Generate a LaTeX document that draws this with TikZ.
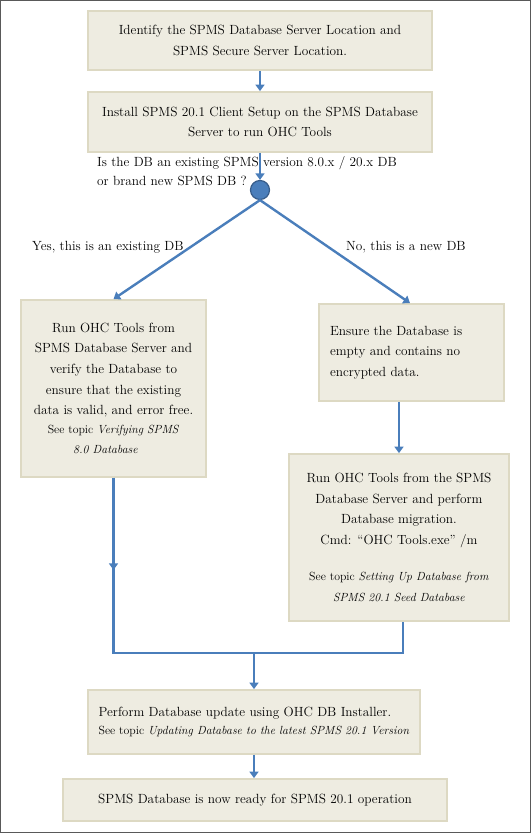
\documentclass[tikz,border=0pt]{standalone}
\usetikzlibrary{arrows.meta,shadows,calc}
\definecolor{boxfill}{HTML}{EEECE1}
\definecolor{boxline}{HTML}{DDD9C3}
\definecolor{arrblue}{HTML}{4A7EBB}
\definecolor{circline}{HTML}{385D8A}
\begin{document}
\begin{tikzpicture}[x=1pt,y=-1pt,
  box/.style={fill=boxfill,draw=boxline,line width=1.8pt,inner sep=0pt,
    drop shadow={opacity=0.25,shadow xshift=1.2pt,shadow yshift=-1.2pt},
    font=\fontsize{13.3}{20.6}\selectfont},
  conn/.style={draw=arrblue,line width=2.4pt},
  arr/.style={conn,-{Triangle[length=6.5pt,width=9pt]}},
  lbl/.style={inner sep=0pt,font=\fontsize{13.3}{19}\selectfont}]
\useasboundingbox (0,0) rectangle (531,833);
\draw[gray!70!black,line width=1pt] (0.5,0.5) rectangle (530.5,832.5);

\node[box,minimum width=344pt,minimum height=59pt,align=center] (b1) at (260,40.5)
 {Identify the SPMS Database Server Location and\\SPMS Secure Server Location.};
\node[box,minimum width=344pt,minimum height=60pt,align=center] (b2) at (260,122)
 {Install SPMS 20.1 Client Setup on the SPMS Database\\Server to run OHC Tools};

\node[circle,fill=arrblue,draw=circline,line width=1.2pt,minimum size=19pt,inner sep=0pt] (c) at (260,190) {};

\node[lbl,anchor=north west,align=left] (q) at (97,156)
 {Is the DB an existing SPMS\phantom{ }version 8.0.x / 20.x DB\\or brand new SPMS DB ?};

\node[box,minimum width=185pt,minimum height=177pt,align=center] (lb) at (113.5,388.5)
 {Run OHC Tools from\\SPMS Database Server and\\verify the Database to\\ensure that the existing\\data is valid, and error free.\\[-2pt]
  {\fontsize{11.8}{18.6}\selectfont See topic \textit{Verifying SPMS}}\\
  {\fontsize{11.8}{18.6}\selectfont\textit{8.0 Database}\hspace*{16pt}}};

\node[box,minimum width=185pt,minimum height=97pt,align=left,text width=163pt] (rt) at (411.5,352.5)
 {Ensure the Database is\\empty and contains no\\encrypted data.};

\node[box,minimum width=220pt,minimum height=167pt,align=center] (rb) at (399,537.5)
 {Run OHC Tools from the SPMS\\Database Server and perform\\Database migration.\\Cmd: ``OHC Tools.exe'' /m\\[16pt]
  {\fontsize{11.8}{18.6}\selectfont See topic \textit{Setting Up Database from}}\\
  {\fontsize{11.8}{18.6}\selectfont\textit{SPMS 20.1 Seed Database}}};

\node[box,minimum width=332pt,minimum height=64pt,align=left] (b5) at (254,722)
 {Perform Database update using OHC DB Installer.\\[-2pt]
  {\fontsize{11.8}{18.6}\selectfont See topic \textit{Updating Database to the latest SPMS 20.1 Version}}};

\node[box,minimum width=384pt,minimum height=42pt,align=center] (b6) at (255,800)
 {SPMS Database is now ready for SPMS 20.1 operation};

\node[lbl,anchor=base west] (yes) at (32,250) {Yes, this is an existing DB};
\node[lbl,anchor=base west] (no) at (346,250) {No, this is a new DB};

\coordinate (j) at (254,653);

\draw[arr] (b1.south) -- (b2.north);
\draw[arr] (b2.south) -- (c.north);
\draw[arr] (c.south) -- (lb.north);
\draw[arr] (c.south) -- ($(rt.north)+(-1.5,0)$);
\draw[arr] (rb.north |- rt.south) -- (rb.north);
\draw[arr] (lb.south) -- ++(0,92);
\draw[conn,line join=miter] (lb.south) -- (lb.south |- j) -- ($(rb.south |- j)+(4,0)$) -- ($(rb.south)+(4,0)$);
\draw[arr] (j) -- (b5.north -| j);
\draw[arr] (b5.south -| j) -- (b6.north -| j);
\end{tikzpicture}
\end{document}
